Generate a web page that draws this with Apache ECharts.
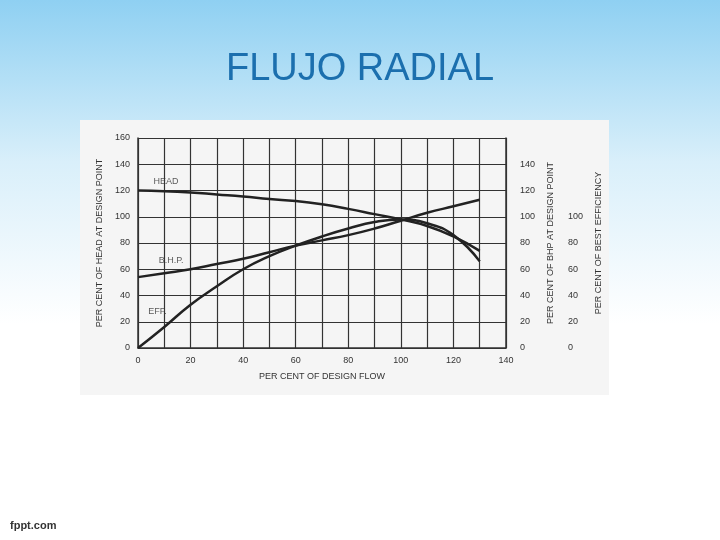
<!DOCTYPE html>
<html><head><meta charset="utf-8">
<script src="https://cdn.jsdelivr.net/npm/echarts@6/dist/echarts.min.js"></script>
<style>html,body{margin:0;padding:0;}#c{width:720px;height:540px;}</style>
</head><body><div id="c"></div>
<script>
const flow = [0,10,20,30,40,50,60,70,80,90,100,110,120,130];
const head = [120,119.5,118.5,117,115.5,113.5,112,109.5,106,102,98,93,85,74];
const bhp  = [54,57,60,64,68,73,78,82,86,91,97,103,108,113];
const eff  = [0,16,33,47,60,70,78,85,91,96,98,95,86,66];
const labels = [{t:'HEAD',x:4,y:127},{t:'B.H.P.',x:6,y:67},{t:'EFF.',x:2,y:28}];

const chart = echarts.init(document.getElementById('c'));
const ax = {color:'#333',fontSize:9,fontFamily:'Liberation Sans'};
const nm = {color:'#333',fontSize:9,fontFamily:'Liberation Sans'};
const pair = a => a.map((v,i)=>[flow[i],v]);
const line = (d,yi)=>({type:'line',data:pair(d),yAxisIndex:yi,smooth:true,symbol:'none',lineStyle:{color:'#222',width:2.5},silent:true});
chart.setOption({
  animation:false,
  graphic:[
    {type:'rect',z:-10,shape:{x:0,y:0,width:720,height:540},style:{fill:new echarts.graphic.LinearGradient(0,0,0,1,[{offset:0,color:'#8fd0f2'},{offset:0.3,color:'#d9effa'},{offset:0.6,color:'#ffffff'},{offset:1,color:'#ffffff'}])}},
    {type:'rect',z:-5,shape:{x:80,y:120,width:529,height:275},style:{fill:'#f5f5f5'}},
    {type:'text',left:10,top:520,style:{text:'fppt.com',fill:'#333',font:'bold 11px Liberation Sans'}}
  ],
  title:{text:'FLUJO RADIAL',left:'center',top:46,textStyle:{color:'#1b6fae',fontSize:38,fontWeight:'normal',fontFamily:'Liberation Sans'}},
  grid:{left:138,right:214,top:138,bottom:192},
  xAxis:{type:'value',min:0,max:140,interval:10,
    name:'PER CENT OF DESIGN FLOW',nameLocation:'middle',nameGap:24,nameTextStyle:nm,
    axisLabel:Object.assign({formatter:v=>v%20===0?v:'',showMinLabel:true},ax),
    axisLine:{lineStyle:{color:'#333',width:1.5}},axisTick:{show:false},
    splitLine:{lineStyle:{color:'#333',width:1.2}}},
  yAxis:[
    {type:'value',min:0,max:160,interval:20,position:'left',
     name:'PER CENT OF HEAD AT DESIGN POINT',nameLocation:'middle',nameGap:34,nameTextStyle:nm,
     axisLabel:ax,axisLine:{show:true,lineStyle:{color:'#333',width:1.5}},axisTick:{show:false},
     splitLine:{lineStyle:{color:'#333',width:1.2}}},
    {type:'value',min:0,max:160,interval:20,position:'right',offset:0,
     name:'PER CENT OF BHP AT DESIGN POINT',nameLocation:'middle',nameGap:38,nameTextStyle:nm,
     axisLabel:Object.assign({margin:14,formatter:v=>v<=140?v:''},ax),axisLine:{show:true,lineStyle:{color:'#333',width:1.5}},axisTick:{show:false},splitLine:{show:false}},
    {type:'value',min:0,max:160,interval:20,position:'right',offset:62,
     name:'PER CENT OF BEST EFFICIENCY',nameLocation:'middle',nameGap:24,nameTextStyle:nm,
     axisLabel:Object.assign({margin:0,formatter:v=>v<=100?v:''},ax),axisLine:{show:false},axisTick:{show:false},splitLine:{show:false}}
  ],
  series:[
    line(head,0), line(bhp,1), line(eff,2),
    {type:'scatter',data:labels.map(l=>[l.x,l.y]),symbolSize:0,silent:true,
     label:{show:true,position:'right',formatter:p=>labels[p.dataIndex].t,color:'#333',fontSize:9,fontFamily:'Liberation Sans'}}
  ]
});
</script></body></html>
